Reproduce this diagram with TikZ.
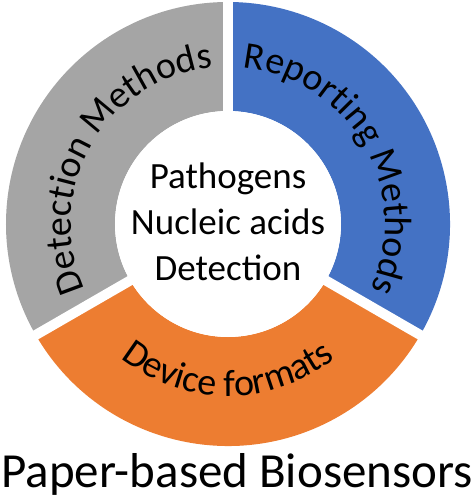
\documentclass[tikz,border=0pt]{standalone}
\usepackage{fontspec}
\setmainfont{Carlito}
\usetikzlibrary{decorations.text}

\definecolor{ringgray}{HTML}{A5A5A5}
\definecolor{ringblue}{HTML}{4472C4}
\definecolor{ringorange}{HTML}{ED7D31}

\tikzset{
  ringlabel/.style={decorate, decoration={text along path, text align=center,
      text={|\fontsize{38}{40}\selectfont|#1}}},
}

\begin{document}
\begin{tikzpicture}

  \newcommand\Rout{222pt};
  \newcommand\Rin{113pt};
  \newcommand\Rtxt{157pt};

  \useasboundingbox (-228pt,-279pt) rectangle (246pt,224pt);

  % the three sectors
  \fill[ringgray]
  (90:\Rout) arc[start angle=90, end angle=210, radius=\Rout]
  -- (210:\Rin) arc[start angle=210, end angle=90, radius=\Rin] -- cycle;

  \fill[ringblue]
  (-30:\Rout) arc[start angle=-30, end angle=90, radius=\Rout]
  -- (90:\Rin) arc[start angle=90, end angle=-30, radius=\Rin] -- cycle;

  \fill[ringorange]
  (210:\Rout) arc[start angle=210, end angle=330, radius=\Rout]
  -- (330:\Rin) arc[start angle=330, end angle=210, radius=\Rin] -- cycle;

  % white gaps and hole
  \foreach \a in {90,210,330}
    \draw[white, line width=10pt] (0,0) -- (\a:240pt);
  \fill[white] (0,0) circle[radius=\Rin];

  % curved labels
  \path[ringlabel={Detection Methods}]
  (210:\Rtxt) arc[start angle=210, end angle=90, radius=\Rtxt];
  \path[ringlabel={Reporting Methods}]
  (88:\Rtxt) arc[start angle=88, end angle=-28, radius=\Rtxt];
  \path[ringlabel={Device formats}]
  (210:172pt) arc[start angle=210, end angle=330, radius=172pt];

  \node[align=center, font=\fontsize{37}{46}\selectfont] (hub) at (0,2pt)
  {Pathogens\\Nucleic acids\\Detection};

  \node[anchor=base, font=\fontsize{49}{58}\selectfont, inner sep=0pt] (title)
  at (9pt,-263pt) {Paper-based Biosensors};

\end{tikzpicture}
\end{document}
